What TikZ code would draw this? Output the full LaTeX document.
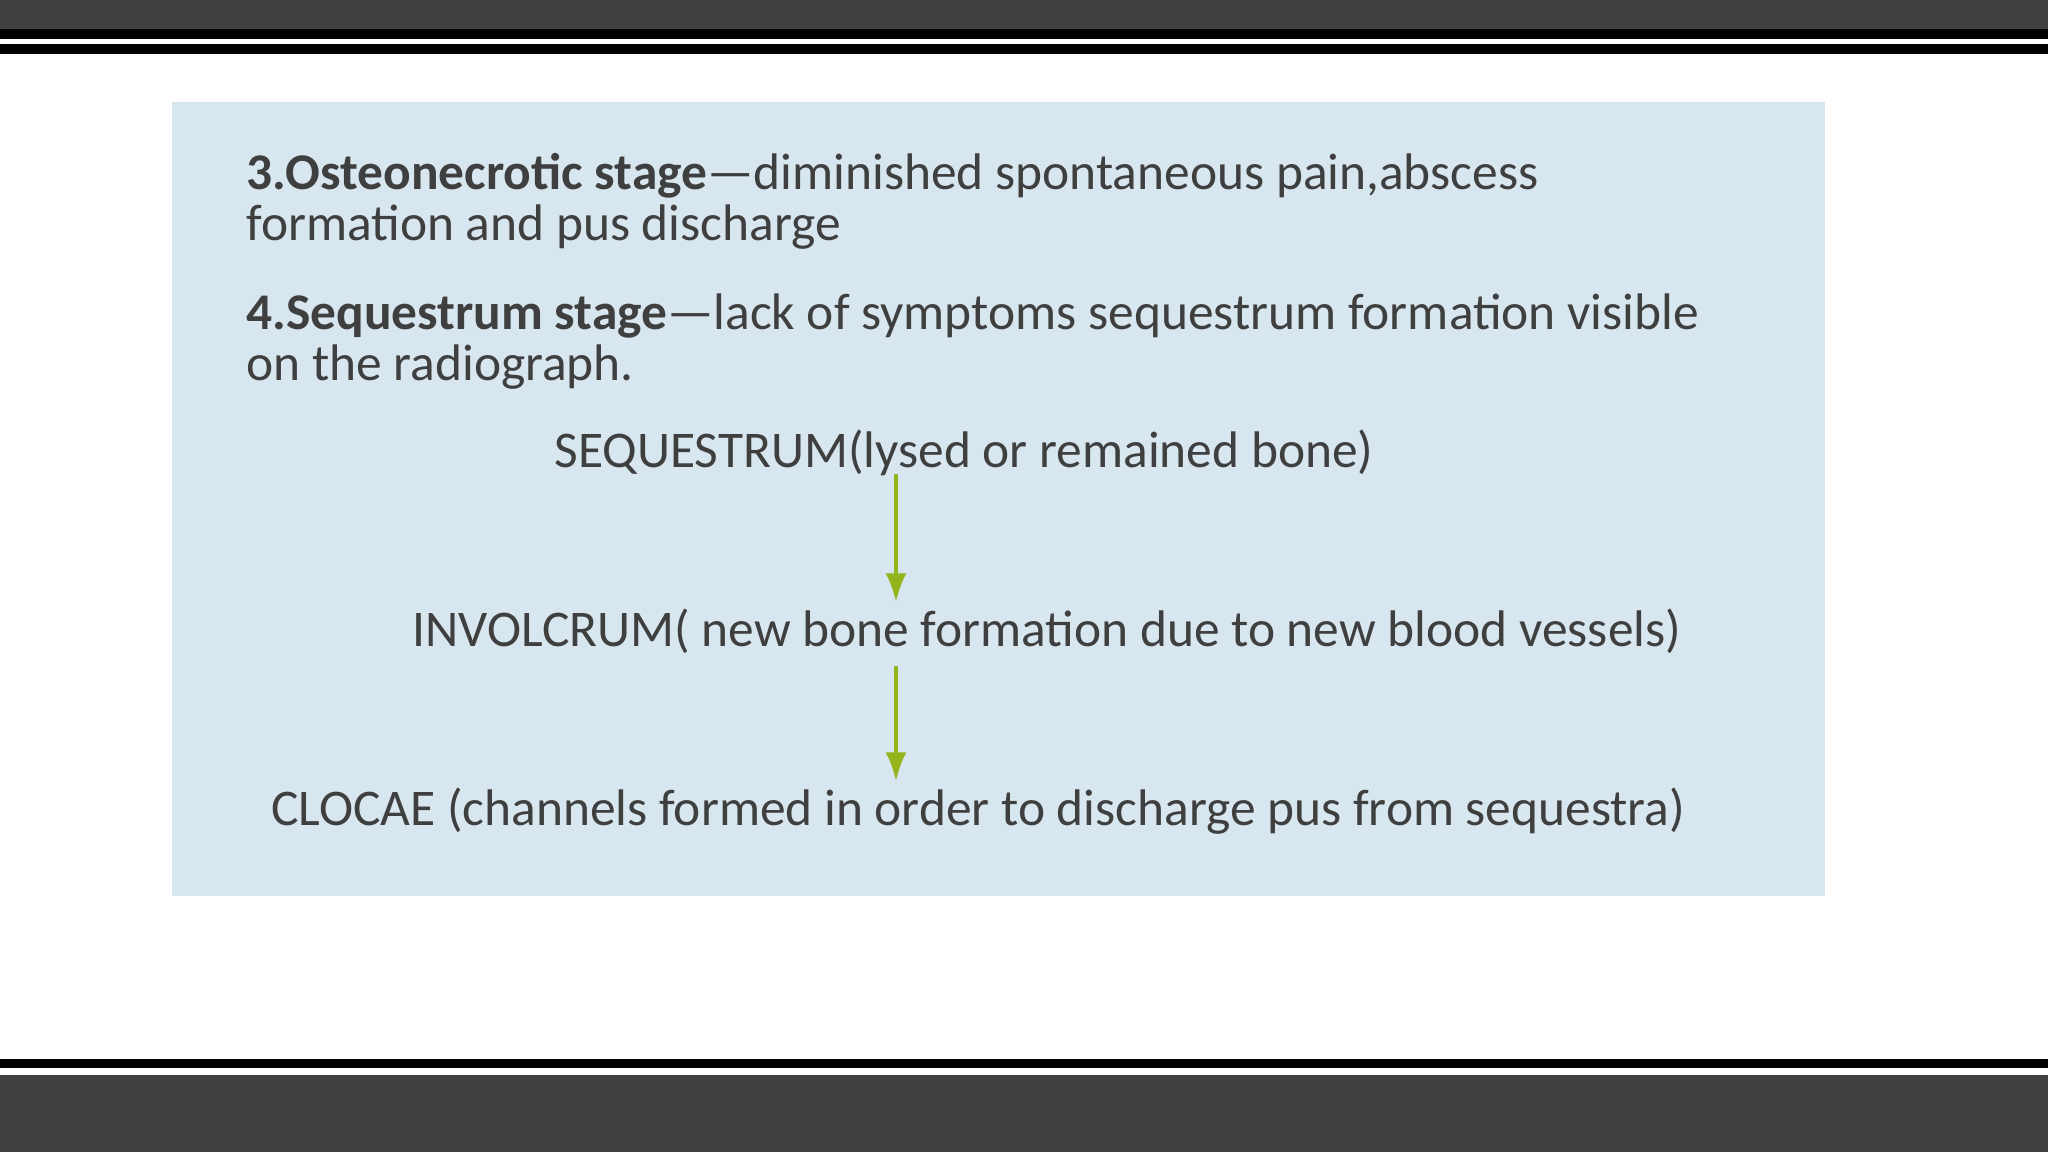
\documentclass[tikz,border=0pt]{standalone}
\usepackage{fontspec}
\setmainfont{Carlito}
\definecolor{band}{HTML}{404040}
\definecolor{boxbg}{HTML}{D7E6EF}
\definecolor{txt}{HTML}{3F3F3F}
\definecolor{arr}{HTML}{94B51C}
\tikzset{t/.style={inner sep=0pt,anchor=base west,text=txt,font=\fontsize{11.2pt}{13.4pt}\selectfont},
 ar/.style={draw=arr,line width=0.8pt,-{Latex[length=2.2mm,width=1.6mm]}}}
\usetikzlibrary{arrows.meta}
\begin{document}
\begin{tikzpicture}[x=0.01cm,y=-0.01cm]
\useasboundingbox (0,0) rectangle (1568,882);
\fill[white] (0,0) rectangle (1568,882);
\fill[band] (0,0) rectangle (1568,22);
\fill[black] (0,22) rectangle (1568,30);
\fill[black] (0,34) rectangle (1568,41);
\fill[black] (0,811) rectangle (1568,818);
\fill[band] (0,823) rectangle (1568,882);
\fill[boxbg] (132,78) rectangle (1397,686);
\node[t] (l1) at (188,145) {\textbf{3.Osteonecrotic stage}—diminished spontaneous pain,abscess};
\node[t] (l2) at (188,184) {formation and pus discharge};
\node[t] (l3) at (188,252) {\textbf{4.Sequestrum stage}—lack of symptoms sequestrum formation visible};
\node[t] (l4) at (188,291) {on the radiograph.};
\node[t] (s) at (424,358) {SEQUESTRUM(lysed or remained bone)};
\node[t] (i) at (315,495) {INVOLCRUM( new bone formation due to new blood vessels)};
\node[t] (c) at (207,632) {CLOCAE (channels formed in order to discharge pus from sequestra)};
\coordinate (a1) at (686,363); \coordinate (b1) at (686,461);
\coordinate (a2) at (686,510); \coordinate (b2) at (686,598);
\draw[ar] (a1) -- (b1);
\draw[ar] (a2) -- (b2);
\end{tikzpicture}
\end{document}
